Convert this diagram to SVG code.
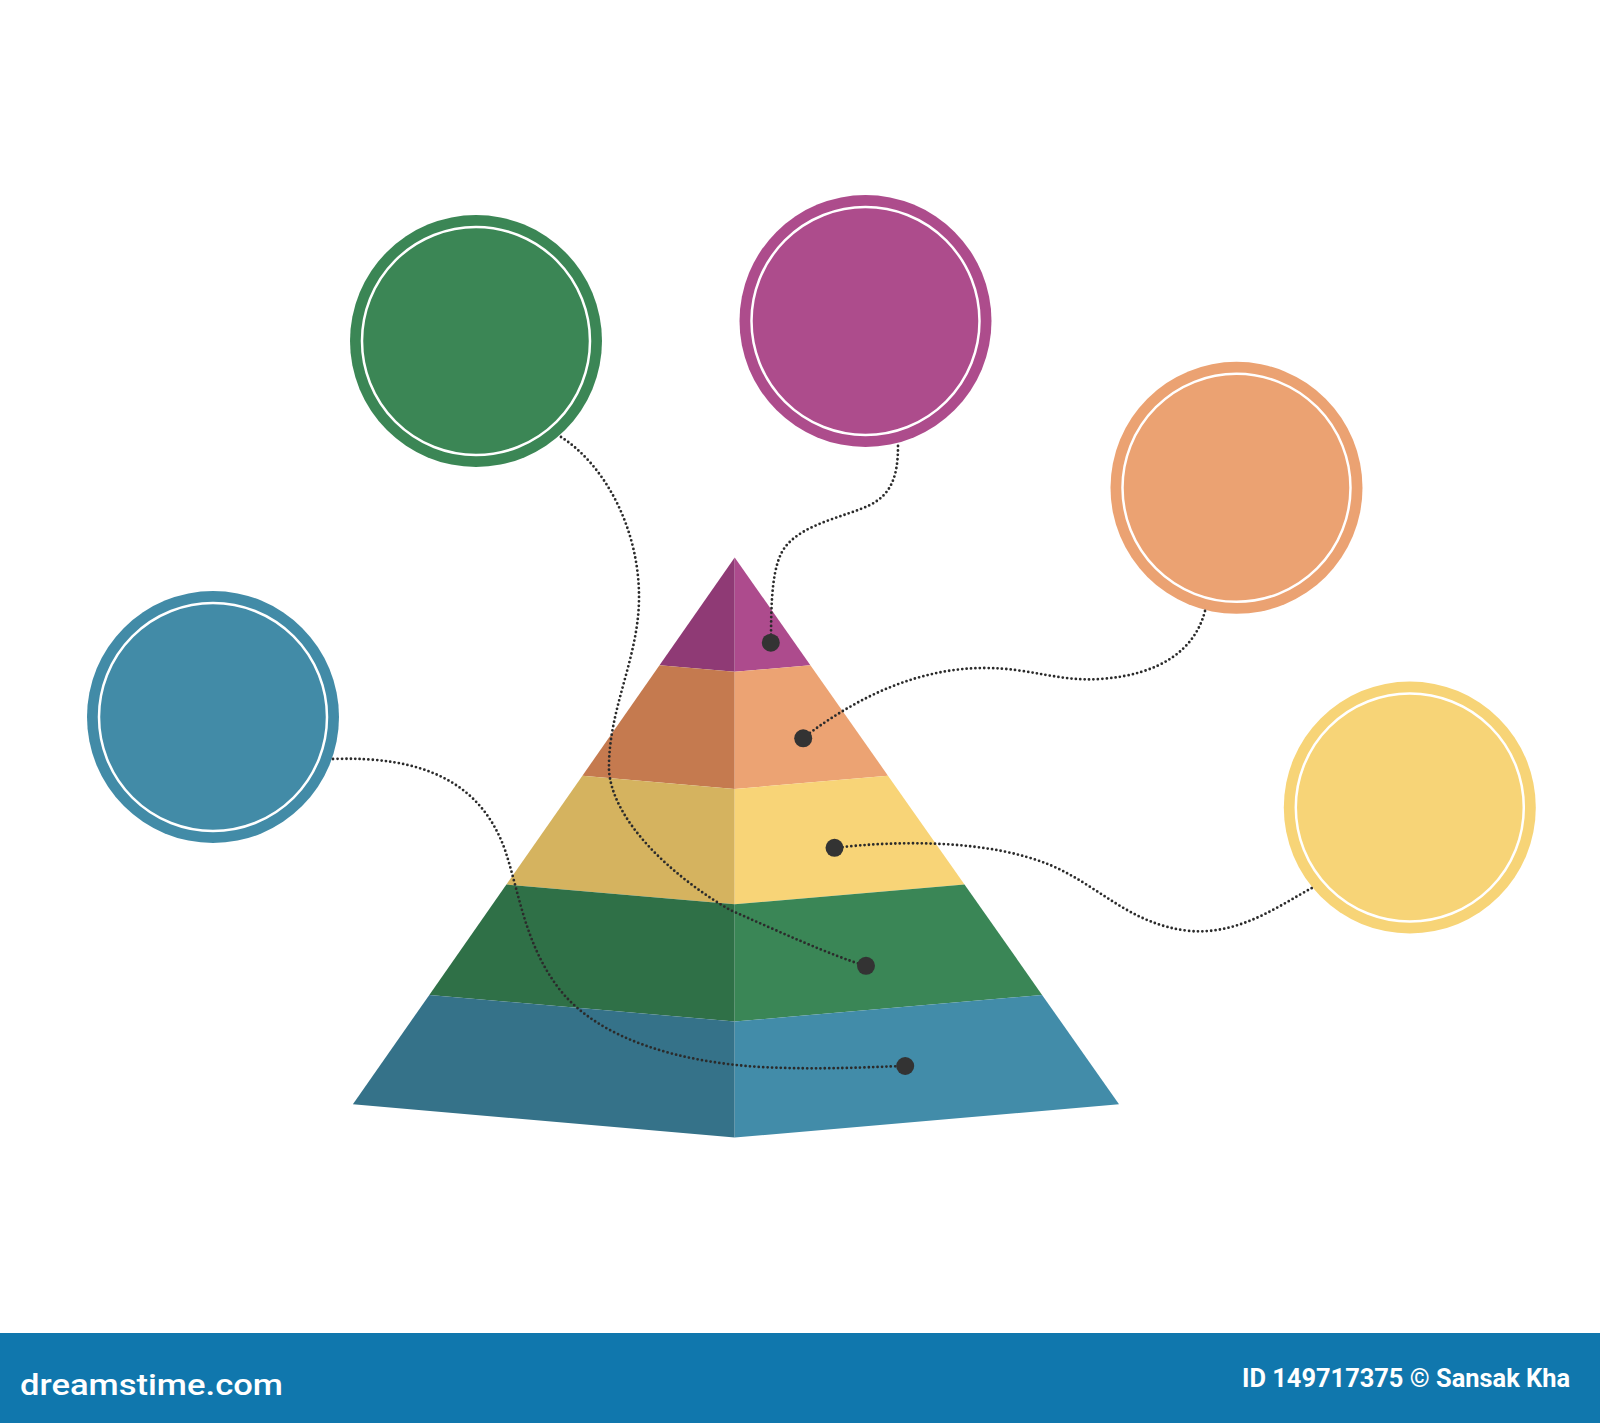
<svg xmlns="http://www.w3.org/2000/svg" width="1600" height="1423" viewBox="0 0 1600 1423">
<style>
.ring{fill:none;stroke:#ffffff;stroke-width:2.5}
.conn{fill:none;stroke:#2b2b2b;stroke-width:2.8;stroke-linecap:round;stroke-dasharray:0 4.4}
.dot{fill:#333333}
.banner-text{fill:#ffffff;font-family:Roboto,"Liberation Sans",sans-serif}
</style>
<rect x="0" y="0" width="1600" height="1423" fill="#ffffff"/>

<g id="pyramid">
  <g id="layer-purple">
    <polygon points="734.7,557.5 659.5,665.2 734.7,671.8" fill="#8f3a75"/>
    <polygon points="734.7,557.5 734.7,671.8 810.4,665.2" fill="#ad4b8d"/>
  </g>
  <g id="layer-orange">
    <polygon points="659.5,665.2 734.7,671.8 734.7,788.9 582.4,775.7" fill="#c57a4f"/>
    <polygon points="734.7,671.8 810.4,665.2 888,775.7 734.7,788.9" fill="#eca373"/>
  </g>
  <g id="layer-yellow">
    <polygon points="582.4,775.7 734.7,788.9 734.7,904.3 506.4,884.5" fill="#d5b35f"/>
    <polygon points="734.7,788.9 888,775.7 964.5,884.5 734.7,904.3" fill="#f8d477"/>
  </g>
  <g id="layer-green">
    <polygon points="506.4,884.5 734.7,904.3 734.7,1021.5 429.3,994.9" fill="#2f7047"/>
    <polygon points="734.7,904.3 964.5,884.5 1042.1,994.9 734.7,1021.5" fill="#3a8656"/>
  </g>
  <g id="layer-blue">
    <polygon points="429.3,994.9 734.7,1021.5 734.7,1137.5 352.9,1104.3" fill="#357289"/>
    <polygon points="734.7,1021.5 1042.1,994.9 1119,1104.3 734.7,1137.5" fill="#428ca9"/>
  </g>
</g>

<g id="circle-green">
  <circle cx="476" cy="341" r="126" fill="#3b8655"/>
  <circle class="ring" cx="476" cy="341" r="114"/>
</g>
<g id="circle-purple">
  <circle cx="865.5" cy="321" r="126" fill="#ad4c8c"/>
  <circle class="ring" cx="865.5" cy="321" r="114"/>
</g>
<g id="circle-orange">
  <circle cx="1236.5" cy="487.8" r="126" fill="#eba272"/>
  <circle class="ring" cx="1236.5" cy="487.8" r="114"/>
</g>
<g id="circle-yellow">
  <circle cx="1409.8" cy="807.5" r="126" fill="#f7d477"/>
  <circle class="ring" cx="1409.8" cy="807.5" r="114"/>
</g>
<g id="circle-blue">
  <circle cx="213" cy="717" r="126" fill="#428ba7"/>
  <circle class="ring" cx="213" cy="717" r="114"/>
</g>

<g id="connectors">
  <path class="conn" d="M898,446 C898,475 892,494 870,505 C845,517 805,523 786,546 C772,563 771,600 771,643"/>
  <path class="conn" d="M1205,611 C1195,650 1160,675 1100,679 C1060,682 1030,668 985,668 C920,668 860,695 803,738"/>
  <path class="conn" d="M834,848 C900,840 990,840 1050,865 C1100,886 1130,925 1190,931 C1240,935 1280,905 1312,888"/>
  <path class="conn" d="M561,437 C605,465 640,530 639,600 C638,660 608,710 609,770 C612,820 670,875 730,910 C780,932 830,955 866,966"/>
  <path class="conn" d="M333,759 C420,756 480,780 505,850 C520,895 525,945 560,990 C600,1040 680,1062 760,1067 C820,1070 870,1067 905,1066"/>
</g>

<g id="dots">
  <circle class="dot" cx="770.8" cy="642.7" r="9"/>
  <circle class="dot" cx="803.2" cy="738.3" r="9"/>
  <circle class="dot" cx="834.5" cy="847.8" r="9"/>
  <circle class="dot" cx="866" cy="965.8" r="9"/>
  <circle class="dot" cx="905.2" cy="1066" r="9"/>
</g>

<g id="banner">
  <rect x="0" y="1333" width="1600" height="90" fill="#1077ad"/>
  <text class="banner-text" x="20" y="1395" font-size="30" font-weight="500" textLength="263" lengthAdjust="spacingAndGlyphs">dreamstime.com</text>
  <text class="banner-text" x="1242" y="1387" font-size="26" font-weight="700" textLength="328" lengthAdjust="spacingAndGlyphs">ID 149717375 © Sansak Kha</text>
</g>
</svg>
